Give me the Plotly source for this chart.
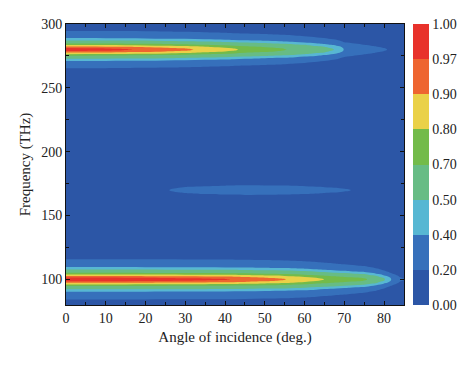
import numpy as np
import plotly.graph_objects as go

# ---- data ----
angles = [0, 5, 10, 15, 20, 25, 30, 35, 40, 45, 50, 55, 60, 65, 68, 70, 75, 78, 80, 82, 84, 85]

# peak absorption of the ~100 THz band vs angle
low_center = 100.0
low_peak = [1.00, 1.00, 0.998, 0.995, 0.99, 0.985, 0.98, 0.975, 0.968, 0.95, 0.925, 0.898,
            0.85, 0.795, 0.77, 0.755, 0.71, 0.62, 0.52, 0.37, 0.22, 0.20]
low_width = [7.8, 7.8, 7.8, 7.8, 7.8, 7.8, 7.8, 7.8, 7.8, 7.8, 7.8, 7.8,
             7.8, 7.5, 7.2, 7.0, 6.5, 6.0, 5.5, 5.0, 5.0, 5.0]

# peak absorption of the ~280 THz band vs angle
high_center = 280.0
high_peak = [0.99, 0.988, 0.98, 0.97, 0.955, 0.935, 0.91, 0.87, 0.83, 0.78, 0.74, 0.70,
             0.64, 0.56, 0.49, 0.38, 0.29, 0.24, 0.21, 0.18, 0.15, 0.14]
high_width = [7.3, 7.3, 7.3, 7.3, 7.3, 7.3, 7.3, 7.3, 7.3, 7.3, 7.3, 7.2,
              7.0, 6.6, 6.3, 6.0, 5.5, 5.2, 5.0, 5.0, 5.0, 5.0]

# weak band near 170 THz
mid_center = 170.0
mid_peak = [0.10, 0.11, 0.12, 0.14, 0.16, 0.18, 0.20, 0.212, 0.22, 0.225, 0.225, 0.222,
            0.215, 0.205, 0.20, 0.195, 0.186, 0.175, 0.165, 0.15, 0.14, 0.13]
mid_width = 8.0

levels = [0.00, 0.20, 0.40, 0.50, 0.70, 0.80, 0.90, 0.97, 1.00]
level_labels = ["0.00", "0.20", "0.40", "0.50", "0.70", "0.80", "0.90", "0.97", "1.00"]
band_colors = ["#2c56a6", "#3a7cc4", "#5ec5d6", "#68bb80", "#6bb84a",
               "#e9e54d", "#f07c32", "#e8322b"]

# ---- build field (Lorentzian line shape in frequency) ----
freq = np.linspace(80, 300, 441)
F = freq[:, None]

def band(center, peak, width):
    peak = np.asarray(peak, dtype=float)[None, :]
    width = (np.asarray(width, dtype=float) * np.ones(len(angles)))[None, :]
    return peak / (1.0 + ((F - center) / width) ** 2)

z = band(low_center, low_peak, low_width) + band(high_center, high_peak, high_width) \
    + band(mid_center, mid_peak, mid_width)
z = np.clip(z, 0, 1)

# map onto equally spaced level index so the colour bar has equal bins
idx = np.arange(len(levels))
zi = np.interp(z, levels, idx)

n = len(levels)  # 9
colorscale = [[0.0, band_colors[0]]]
for k, c in enumerate(band_colors):
    colorscale.append([(k + 1) / n, c])
colorscale.append([1.0, band_colors[-1]])

font_family = "Liberation Serif"

fig = go.Figure(go.Contour(
    x=angles, y=freq, z=zi,
    contours=dict(start=0, end=n - 1, size=1, coloring="fill", showlines=False),
    line=dict(width=0, smoothing=1),
    colorscale=colorscale,
    zmin=0, zmax=n - 1,
    colorbar=dict(
        tickvals=list(idx), ticktext=level_labels,
        x=(413 - 66) / 338, xanchor="left", xpad=0,
        y=0, yanchor="bottom", len=1, lenmode="fraction", ypad=0,
        thickness=16, thicknessmode="pixels",
        outlinewidth=0, ticks="", ticklabelposition="outside",
        tickfont=dict(family=font_family, size=14, color="#222"),
    ),
))

# page body has an 8 px margin, so the figure is offset by 8 px
fig.update_layout(
    width=474, height=366,
    margin=dict(l=58, r=78, t=16, b=69, autoexpand=False),
    paper_bgcolor="white", plot_bgcolor=band_colors[0],
    font=dict(family=font_family, size=14, color="#222"),
    showlegend=False,
)
fig.update_xaxes(
    range=[0, 85], tickvals=list(range(0, 90, 10)),
    ticks="inside", ticklen=4, tickcolor="#111", tickwidth=1,
    minor=dict(dtick=5, tick0=0, ticks="inside", ticklen=3, tickcolor="#111"),
    showline=True, linecolor="#111", linewidth=1, mirror="ticks",
    showgrid=False, zeroline=False, automargin=False,
    title=dict(text="Angle of incidence (deg.)", standoff=6, font=dict(size=15)),
)
fig.update_yaxes(
    range=[80, 300], tickvals=[100, 150, 200, 250, 300],
    ticks="inside", ticklen=4, tickcolor="#111", tickwidth=1,
    minor=dict(dtick=25, tick0=0, ticks="inside", ticklen=3, tickcolor="#111"),
    showline=True, linecolor="#111", linewidth=1, mirror="ticks",
    showgrid=False, zeroline=False, automargin=False,
    title=dict(text="Frequency (THz)", standoff=6, font=dict(size=15)),
)

fig.write_html("out.html")
